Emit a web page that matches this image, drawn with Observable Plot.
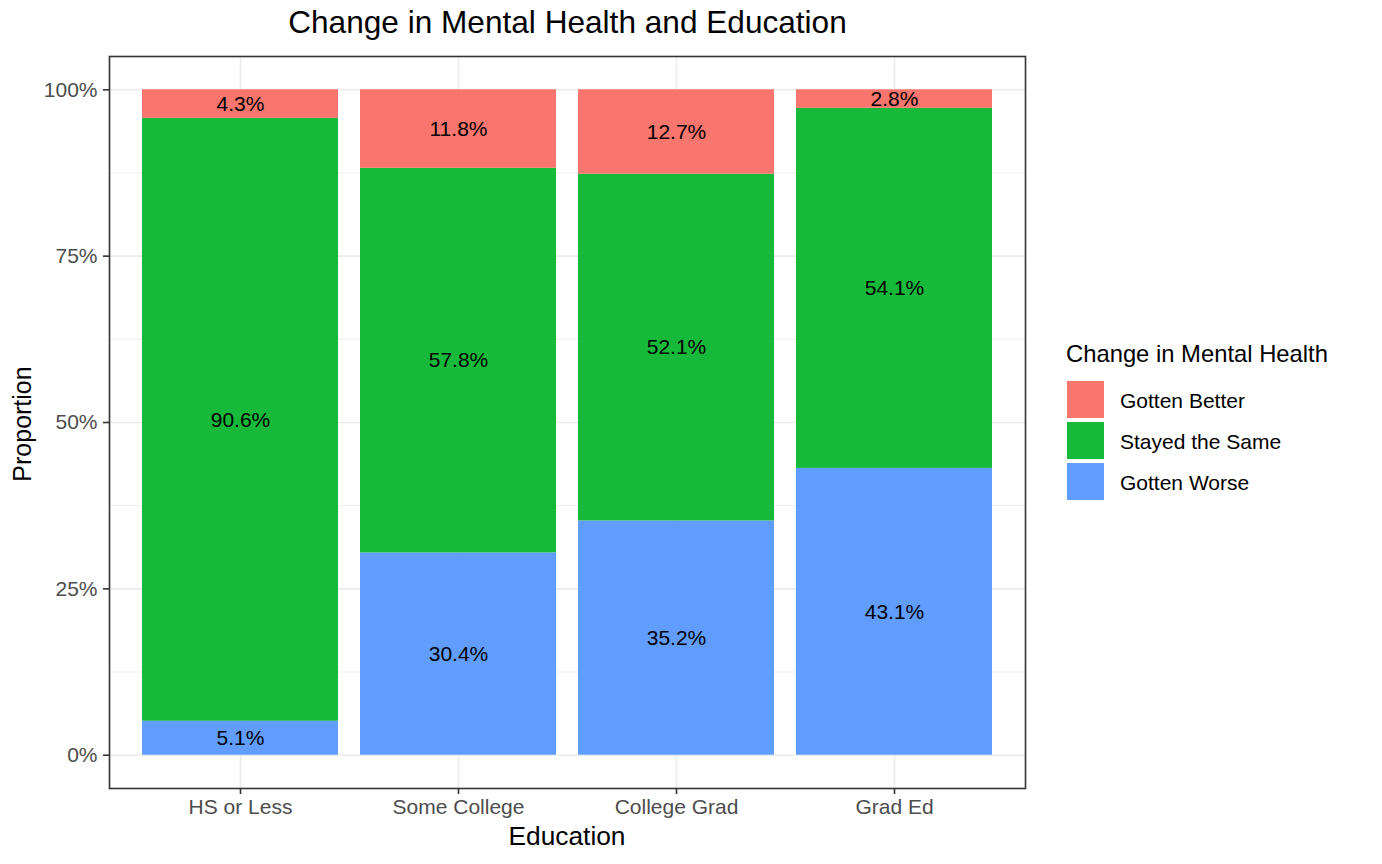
<!DOCTYPE html>
<html>
<head>
<meta charset="utf-8">
<script src="https://cdn.jsdelivr.net/npm/d3@7"></script>
<script src="https://cdn.jsdelivr.net/npm/@observablehq/plot@0.6"></script>
<style>
  html, body { margin: 0; padding: 0; background: #fff; }
  #wrap { position: relative; width: 1382px; height: 864px; font-family: "Liberation Sans", Arial, Helvetica, sans-serif; }
  #wrap svg { position: absolute; left: 0; top: 0; }
  .abs { position: absolute; white-space: nowrap; line-height: 1; color: #000; }
  .key { position: absolute; width: 37px; height: 37px; }
</style>
</head>
<body>
<div id="wrap"></div>
<script>
const educations = ["HS or Less", "Some College", "College Grad", "Grad Ed"];
const changes = ["Gotten Better", "Stayed the Same", "Gotten Worse"];
const changeColors = ["#F8766D", "#17B93A", "#619CFF"];
const betterPct = [4.3, 11.8, 12.7, 2.8];
const samePct = [90.6, 57.8, 52.1, 54.1];
const worsePct = [5.1, 30.4, 35.2, 43.1];
const yTicks = [0, 0.25, 0.5, 0.75, 1];
const yMinor = [0.125, 0.375, 0.625, 0.875];
const titleText = "Change in Mental Health and Education";
const xTitle = "Education";
const yTitle = "Proportion";
const legendTitle = "Change in Mental Health";

// rows stacked bottom → top: worse, same, better
const rows = [];
educations.forEach((e, i) => {
  rows.push({edu: e, change: "Gotten Worse", pct: worsePct[i]});
  rows.push({edu: e, change: "Stayed the Same", pct: samePct[i]});
  rows.push({edu: e, change: "Gotten Better", pct: betterPct[i]});
});
rows.forEach(r => r.p = r.pct / 100);

const FONT = '"Liberation Sans", Arial, Helvetica, sans-serif';

const chart = Plot.plot({
  width: 1382,
  height: 864,
  marginLeft: 109,
  marginRight: 357,
  marginTop: 56,
  marginBottom: 76,
  style: {fontFamily: FONT, background: "transparent", overflow: "visible"},
  x: {domain: educations, paddingInner: 0.1, paddingOuter: 0.15, label: null},
  y: {domain: [-0.05, 1.05], label: null},
  color: {domain: changes, range: changeColors},
  marks: [
    Plot.ruleY(yMinor, {stroke: "#EBEBEB", strokeWidth: 0.8}),
    Plot.ruleY(yTicks, {stroke: "#EBEBEB", strokeWidth: 1.6}),
    Plot.ruleX(educations, {stroke: "#EBEBEB", strokeWidth: 1.6}),
    Plot.barY(rows, Plot.stackY({x: "edu", y: "p", fill: "change", order: null})),
    Plot.text(rows, Plot.stackY({x: "edu", y: "p", z: "change", order: null,
      text: d => d.pct.toFixed(1) + "%", fill: "#000", fontSize: 21})),
    Plot.frame({stroke: "#333", strokeWidth: 1.6}),
    Plot.axisY(yTicks, {tickSize: 6, text: null, color: "#333", strokeWidth: 1.6, label: null}),
    Plot.axisY(yTicks, {tickSize: 0, tickPadding: 12, color: "#4D4D4D", fontSize: 21,
      tickFormat: d => Math.round(d * 100) + "%", label: null}),
    Plot.axisX(educations, {tickSize: 6, text: null, color: "#333", strokeWidth: 1.6, label: null}),
    Plot.axisX(educations, {tickSize: 0, tickPadding: 11, color: "#4D4D4D", fontSize: 21, label: null})
  ]
});

const wrap = document.getElementById("wrap");
wrap.appendChild(chart);

function addText(txt, css) {
  const d = document.createElement("div");
  d.className = "abs";
  d.textContent = txt;
  Object.assign(d.style, css);
  wrap.appendChild(d);
  return d;
}

// Title
addText(titleText, {left: "0px", width: "1135px", textAlign: "center", top: "7px", fontSize: "31.6px"});
// X axis title
addText(xTitle, {left: "0px", width: "1134px", textAlign: "center", top: "823px", fontSize: "26.3px"});
// Y axis title (rotated)
addText(yTitle, {left: "22px", top: "424px", fontSize: "25px", transform: "translate(-50%, -50%) rotate(-90deg)", transformOrigin: "center"});

// Legend
addText(legendTitle, {left: "1066px", top: "342px", fontSize: "23.8px"});
changes.forEach((c, i) => {
  const k = document.createElement("div");
  k.className = "key";
  k.style.left = "1067px";
  k.style.top = (381 + i * 41) + "px";
  k.style.background = changeColors[i];
  wrap.appendChild(k);
  addText(c, {left: "1120px", top: (390 + i * 41) + "px", fontSize: "21px"});
});
</script>
</body>
</html>
